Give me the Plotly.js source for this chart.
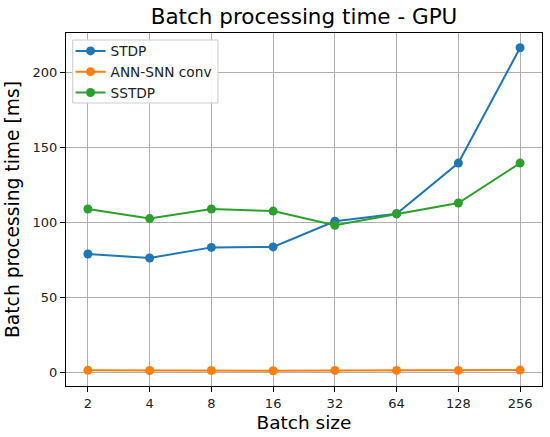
<!DOCTYPE html>
<html>
<head>
<meta charset="utf-8">
<script src="https://cdn.plot.ly/plotly-3.0.1.min.js"></script>
<style>html,body{margin:0;padding:0;background:#fff;}#chart{width:550px;height:437px;}</style>
</head>
<body>
<div id="chart"></div>
<script>
const batchSizes = ["2", "4", "8", "16", "32", "64", "128", "256"];
const stdp = [78.7, 76.0, 83.1, 83.4, 100.5, 105.5, 139.3, 216.2];
const annSnn = [1.2, 1.0, 1.0, 0.9, 1.1, 1.1, 1.1, 1.3];
const sstdp = [108.7, 102.3, 108.7, 107.3, 97.8, 105.5, 112.7, 139.3];

const seriesNames = ["STDP", "ANN-SNN conv", "SSTDP"];
const seriesValues = [stdp, annSnn, sstdp];
const colors = ["#1f77b4", "#ff7f0e", "#2ca02c"];

const traces = seriesValues.map((vals, i) => ({
  x: batchSizes,
  y: vals,
  name: seriesNames[i],
  type: "scatter",
  mode: "lines+markers",
  line: {color: colors[i], width: 2},
  marker: {color: colors[i], size: 9}
}));

const font = "DejaVu Sans, sans-serif";
const layout = {
  width: 550,
  height: 437,
  margin: {l: 66, r: 8, t: 33, b: 51},
  paper_bgcolor: "#fff",
  plot_bgcolor: "#fff",
  font: {family: font, color: "#000"},
  title: {text: "Batch processing time - GPU", font: {family: font, size: 21.5, color: "#000"}, x: 0.5, xref: "paper", y: 0.962, yanchor: "middle"},
  xaxis: {
    type: "category",
    range: [-0.355, 7.355],
    showgrid: true, gridcolor: "#b0b0b0", gridwidth: 1,
    showline: true, linecolor: "#000", linewidth: 1, mirror: true,
    ticks: "outside", ticklen: 5, tickcolor: "#000",
    tickfont: {family: font, size: 13, color: "#222"},
    title: {text: "Batch size", font: {family: font, size: 18.5, color: "#000"}, standoff: 6},
    zeroline: false
  },
  yaxis: {
    range: [-9.3, 226],
    tickvals: [0, 50, 100, 150, 200],
    showgrid: true, gridcolor: "#b0b0b0", gridwidth: 1,
    showline: true, linecolor: "#000", linewidth: 1, mirror: true,
    ticks: "outside", ticklen: 5, tickcolor: "#000",
    tickfont: {family: font, size: 13, color: "#222"},
    title: {text: "Batch processing time [ms]", font: {family: font, size: 18.7, color: "#000"}, standoff: 8},
    zeroline: false
  },
  shapes: [{
    type: "rect", xref: "paper", yref: "paper", layer: "above",
    x0: 0.0141, x1: 0.3193, y0: 0.8017, y1: 0.9802,
    fillcolor: "rgba(255,255,255,0.92)", line: {color: "#cccccc", width: 1}
  }],
  legend: {
    x: 0.0095, y: 0.993, xanchor: "left", yanchor: "top",
    bgcolor: "rgba(0,0,0,0)", borderwidth: 0,
    font: {family: font, size: 13.7, color: "#222"},
    tracegroupgap: 0
  },
  showlegend: true
};

Plotly.newPlot("chart", traces, layout, {displayModeBar: false, staticPlot: true});
</script>
</body>
</html>
